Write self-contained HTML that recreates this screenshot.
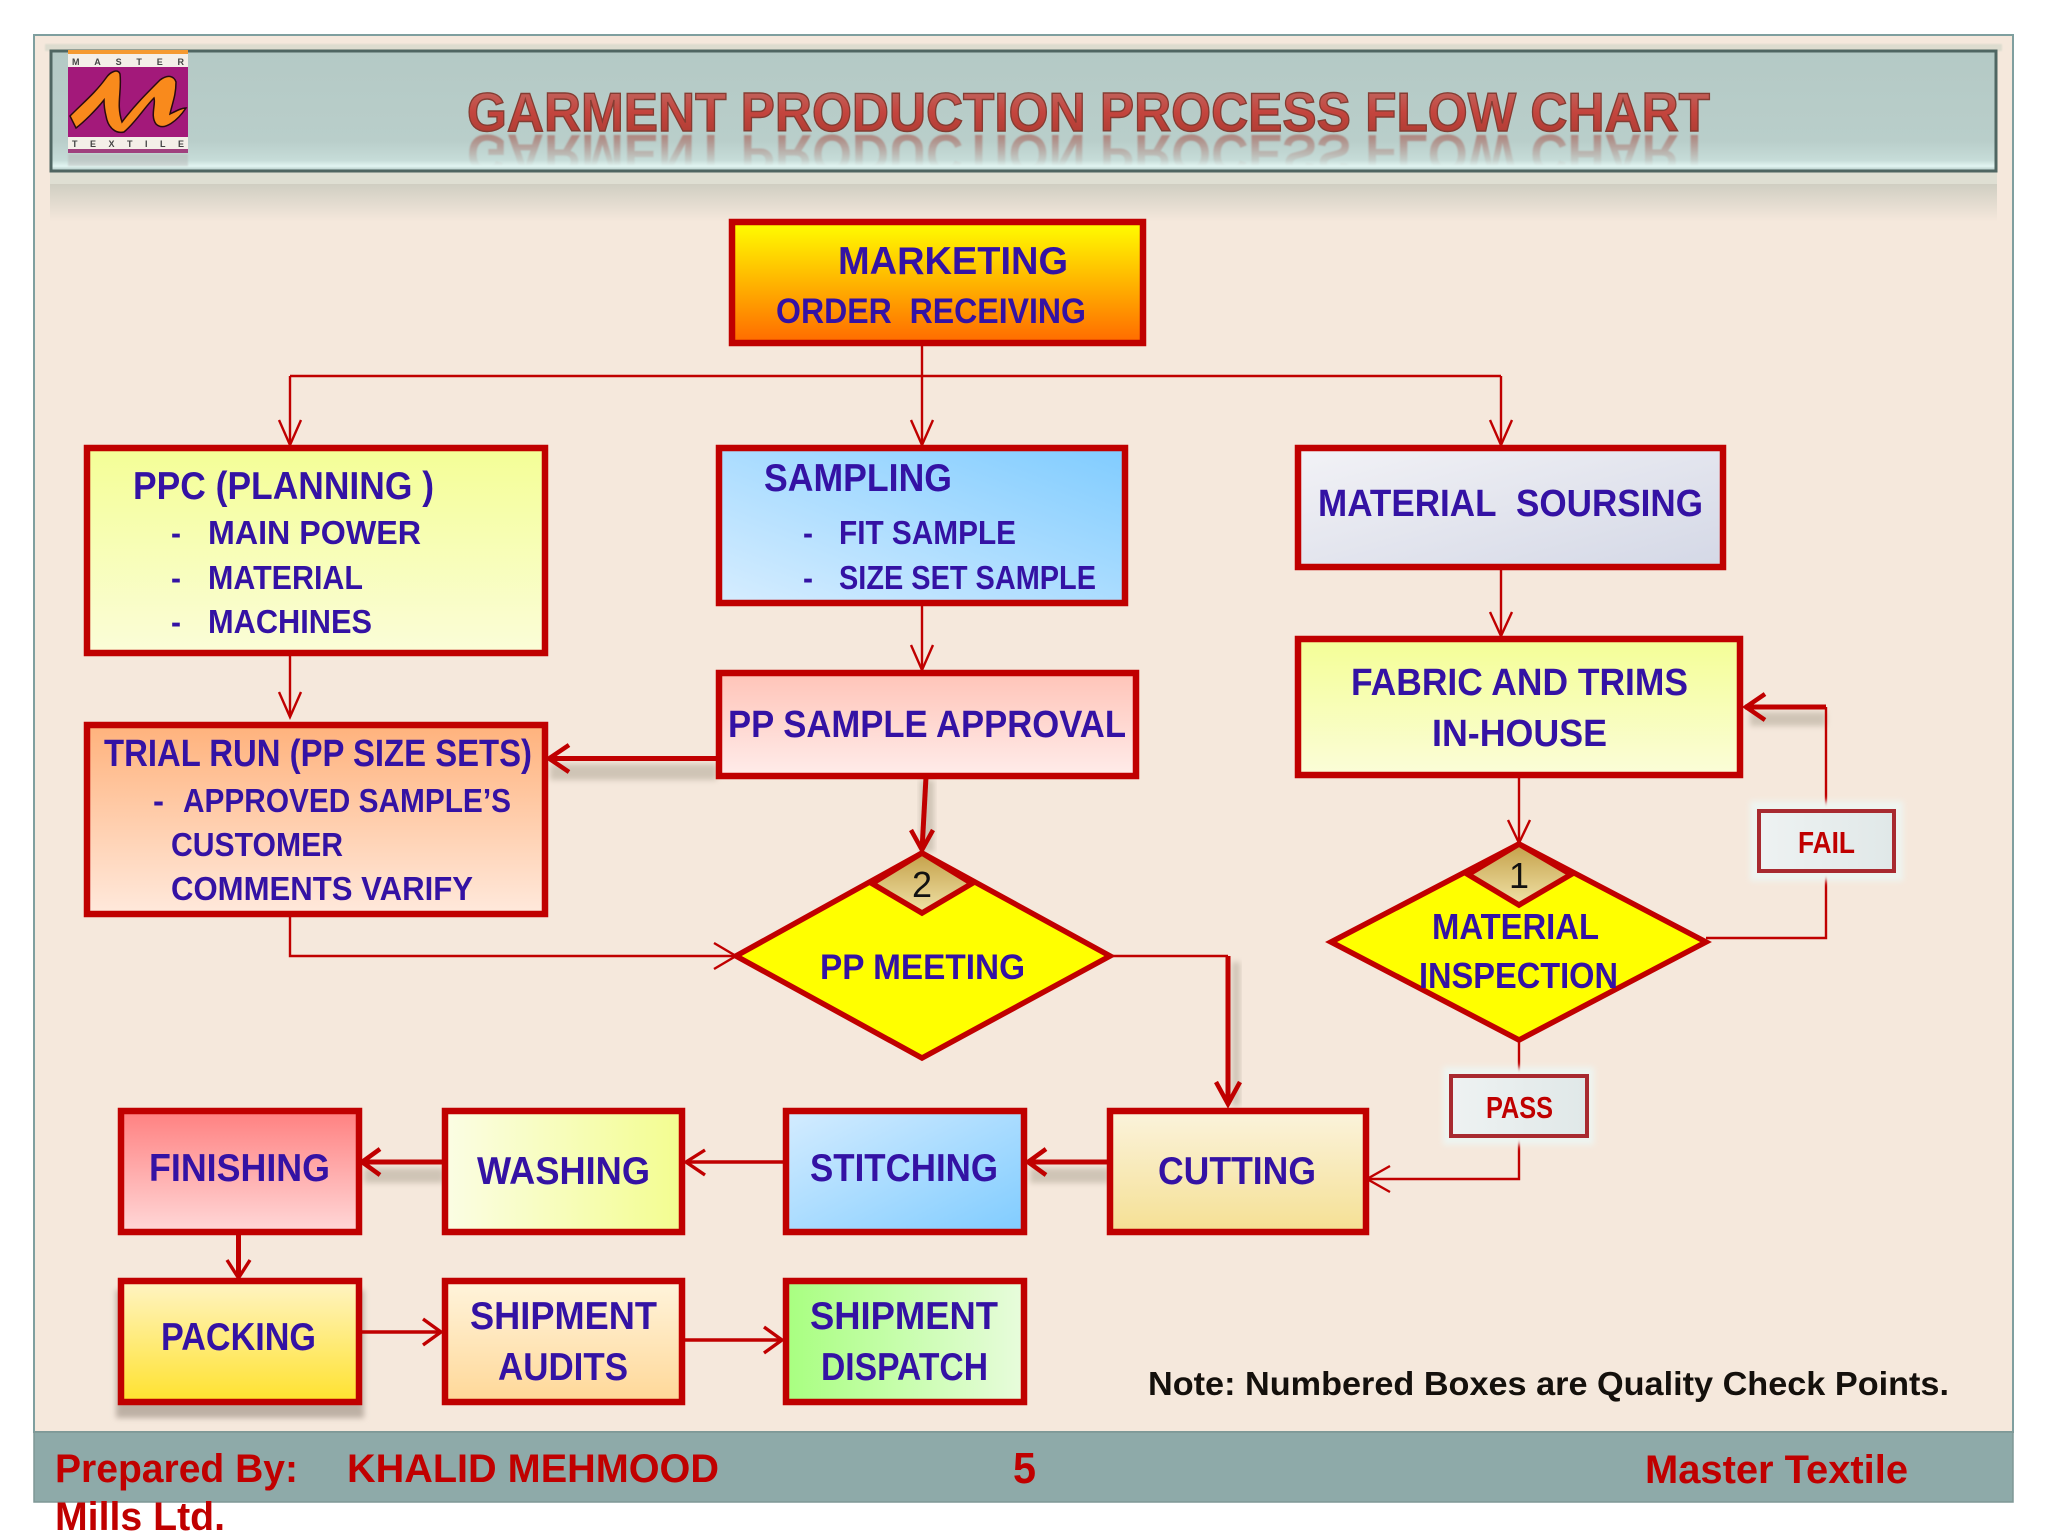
<!DOCTYPE html>
<html><head><meta charset="utf-8"><style>
html,body{margin:0;padding:0;background:#fff;width:2048px;height:1536px;overflow:hidden}
svg{display:block}
text{font-family:"Liberation Sans",sans-serif;font-weight:700}
.t{fill:#3412a4}
.b{stroke:#c00000;stroke-width:6.5;stroke-linejoin:miter}
.l{fill:none;stroke:#c00000;stroke-width:2.4}
.m{fill:none;stroke:#c00000;stroke-width:3.4}
.k{fill:none;stroke:#c00000;stroke-width:5}
.s{fill:#cfc4b6;filter:url(#bl)}
.f{fill:#c00000}
</style></head><body>
<svg xmlns="http://www.w3.org/2000/svg" width="2048" height="1536" viewBox="0 0 2048 1536">
<defs>
<filter id="bl" x="-20%" y="-60%" width="140%" height="220%"><feGaussianBlur stdDeviation="3"/></filter>
<filter id="bl2" x="-10%" y="-20%" width="120%" height="140%"><feGaussianBlur stdDeviation="3"/></filter>
<filter id="soft" x="-2%" y="-10%" width="104%" height="120%"><feGaussianBlur stdDeviation="0.8"/></filter>
<linearGradient id="g1" x1="0" y1="0" x2="0" y2="1"><stop offset="0" stop-color="#ffff00"/><stop offset="1" stop-color="#ff6a00"/></linearGradient>
<linearGradient id="g2" x1="0" y1="0" x2="0" y2="1"><stop offset="0" stop-color="#f4fe96"/><stop offset="1" stop-color="#fbfdd8"/></linearGradient>
<linearGradient id="g3" x1="1" y1="0" x2="0" y2="1"><stop offset="0" stop-color="#80ccff"/><stop offset="1" stop-color="#d6edff"/></linearGradient>
<linearGradient id="g4" x1="0" y1="0" x2="1" y2="1"><stop offset="0" stop-color="#f2f2f6"/><stop offset="1" stop-color="#d4d8e6"/></linearGradient>
<linearGradient id="g5" x1="0" y1="0" x2="0" y2="1"><stop offset="0" stop-color="#ffc4b8"/><stop offset="1" stop-color="#ffecea"/></linearGradient>
<linearGradient id="g6" x1="0" y1="0" x2="0" y2="1"><stop offset="0" stop-color="#ffb27c"/><stop offset="1" stop-color="#ffe9dc"/></linearGradient>
<linearGradient id="g7" x1="0" y1="0" x2="0" y2="1"><stop offset="0" stop-color="#fbf3dc"/><stop offset="1" stop-color="#f5e094"/></linearGradient>
<linearGradient id="g8" x1="0" y1="0" x2="0" y2="1"><stop offset="0" stop-color="#ff8080"/><stop offset="1" stop-color="#ffd8d8"/></linearGradient>
<linearGradient id="g9" x1="0" y1="0" x2="1" y2="0"><stop offset="0" stop-color="#fbfde4"/><stop offset="1" stop-color="#f3fd90"/></linearGradient>
<linearGradient id="g10" x1="0" y1="0" x2="1" y2="1"><stop offset="0" stop-color="#d4ecff"/><stop offset="1" stop-color="#80ccff"/></linearGradient>
<linearGradient id="g11" x1="0" y1="0" x2="0" y2="1"><stop offset="0" stop-color="#fff4c4"/><stop offset="1" stop-color="#ffe22e"/></linearGradient>
<linearGradient id="g12" x1="0" y1="0" x2="0" y2="1"><stop offset="0" stop-color="#fff4dc"/><stop offset="1" stop-color="#ffd898"/></linearGradient>
<linearGradient id="g13" x1="0" y1="0" x2="1" y2="0"><stop offset="0" stop-color="#a8ff80"/><stop offset="1" stop-color="#e8fcdc"/></linearGradient>
<linearGradient id="gd" x1="0" y1="0" x2="0" y2="1"><stop offset="0" stop-color="#c4a048"/><stop offset="1" stop-color="#f0e2a8"/></linearGradient>
<linearGradient id="hd" x1="0" y1="0" x2="0" y2="1"><stop offset="0" stop-color="#b4c9c5"/><stop offset=".75" stop-color="#b9ceca"/><stop offset=".91" stop-color="#c6dcd8"/><stop offset=".96" stop-color="#e2f5f2"/><stop offset="1" stop-color="#a8bfbb"/></linearGradient>
<linearGradient id="rf" x1="0" y1="0" x2="0" y2="1"><stop offset="0" stop-color="#cfcec2"/><stop offset="1" stop-color="#f5e8dc"/></linearGradient>
<linearGradient id="tt" x1="0" y1="0" x2="0" y2="1"><stop offset="0" stop-color="#c0706a"/><stop offset=".5" stop-color="#c4453e"/><stop offset="1" stop-color="#a83a30"/></linearGradient>
<linearGradient id="fade" gradientUnits="userSpaceOnUse" x1="0" y1="133" x2="0" y2="166"><stop offset="0" stop-color="#fff" stop-opacity=".65"/><stop offset="1" stop-color="#fff" stop-opacity="0"/></linearGradient>
<mask id="mf" maskUnits="userSpaceOnUse" x="0" y="0" width="2048" height="300"><rect x="0" y="133" width="2048" height="36" fill="url(#fade)"/></mask>
<linearGradient id="lb" x1="0" y1="0" x2="1" y2="0"><stop offset="0" stop-color="#eef2f2"/><stop offset="1" stop-color="#e0e8e8"/></linearGradient>
</defs>

<!-- slide -->
<rect x="34" y="35" width="1979" height="1397" fill="#f5e8dc" stroke="#7f9f9f" stroke-width="2"/>
<rect x="50" y="172" width="1947" height="12" fill="#dfdfd3"/>
<rect x="50" y="184" width="1947" height="38" fill="url(#rf)"/>
<rect x="34" y="1432" width="1979" height="70" fill="#8eaaa9" stroke="#7f9795" stroke-width="1.5"/>

<!-- header band -->
<rect x="45" y="44" width="1957" height="7" fill="#dddccf" filter="url(#soft)"/>
<rect x="51" y="51" width="1945" height="120" fill="url(#hd)" stroke="#4f6662" stroke-width="3"/>

<!-- logo -->
<g>
<rect x="68" y="50" width="120" height="4" fill="#f59a30"/>
<rect x="68" y="54" width="120" height="14" fill="#f4efe8"/>
<text x="128" y="65" font-size="9" fill="#444" text-anchor="middle" textLength="112" lengthAdjust="spacing">MASTER</text>
<rect x="68" y="67" width="120" height="70" fill="#a3197a"/>
<rect x="68" y="137" width="120" height="12" fill="#f4efe8"/>
<text x="128" y="147" font-size="9" fill="#444" text-anchor="middle" textLength="112" lengthAdjust="spacing">TEXTILE</text>
<rect x="68" y="149" width="120" height="4" fill="#a0407e"/>
<rect x="68" y="154" width="120" height="12" fill="#b0a8a8" opacity=".35" filter="url(#soft)"/>
<path d="M70 116 C84 102 96 92 106 78 C110 72 118 68 120 74 C122 92 116 104 122 122 C134 106 146 94 160 80 C168 74 174 76 176 82 C176 96 172 104 170 114 C178 110 182 108 186 108 C178 120 164 132 156 124 C150 116 156 104 154 98 C144 108 136 122 124 132 C116 134 108 128 106 116 C104 108 104 104 104 100 C96 110 84 122 76 128 Z" fill="#f98a1c" stroke="#2a0a10" stroke-width="1.5"/>
</g>

<!-- title -->
<text x="467" y="131" font-size="55" fill="url(#tt)" stroke="#843c32" stroke-width="1.4" textLength="1243" lengthAdjust="spacingAndGlyphs">GARMENT PRODUCTION PROCESS FLOW CHART</text>
<g mask="url(#mf)">
<g filter="url(#soft)">
<text transform="translate(0,266) scale(1,-1)" x="467" y="131" font-size="55" fill="#a85850" textLength="1243" lengthAdjust="spacingAndGlyphs">GARMENT PRODUCTION PROCESS FLOW CHART</text>
</g>
</g>

<!-- shadows -->
<rect class="s" x="550" y="764" width="167" height="16"/>
<rect class="s" x="1750" y="712" width="76" height="14"/>
<rect class="s" x="1232" y="962" width="8" height="144"/>
<rect class="s" x="920" y="780" width="14" height="72"/>
<rect class="s" x="1030" y="1168" width="79" height="15"/>
<rect class="s" x="364" y="1168" width="80" height="15"/>
<rect class="s" x="116" y="1290" width="248" height="128" style="fill:#bdb0a4"/>

<!-- connectors -->
<path class="l" d="M922 345V445M290 376H1501M290 376V445M1501 376V445"/>
<path class="l" d="M922 604V670M290 655V717M1501 568V636M1519 776V843"/>
<path class="l" d="M290 915V956H736"/>
<path class="l" d="M1706 938H1826V800M1826 882V707"/>
<path class="l" d="M1519 1040V1179H1367"/>
<path class="l" d="M1110 956H1228"/>
<path class="k" d="M1228 956V1104"/>
<path class="k" d="M717 758.500H550"/>
<path class="k" d="M926 777L922 850"/>
<path class="k" d="M1826 707H1745"/>
<path class="m" d="M784 1162H686"/>
<path class="k" d="M1109 1162H1029"/>
<path class="k" d="M443 1162H363"/>
<path class="k" d="M238.500 1233V1277"/>
<path class="m" d="M360 1332H441"/>
<path class="m" d="M683 1340H782"/>

<!-- arrowheads -->
<path class="l" d="M279 420L290 445L301 420M911 420L922 445L933 420M1490 420L1501 445L1512 420"/>
<path class="l" d="M911 645L922 670L933 645M279 692L290 717L301 692M1490 612L1501 636L1512 612M1508 820L1519 843L1530 820"/>
<path class="l" d="M714 943L736 956L714 969M1390 1166L1367 1179L1390 1192"/>
<path class="k" style="stroke-width:4.500" d="M569 745L549 758.500L569 772"/>
<path class="k" style="stroke-width:4.500" d="M911 830L922 850L933 830M1216 1082L1228 1104L1240 1082"/>
<path class="k" style="stroke-width:4.500" d="M1765 694L1746 707L1765 720"/>
<path class="k" style="stroke-width:4.500" d="M1046 1149L1028 1162L1046 1175M380 1149L362 1162L380 1175"/>
<path class="m" d="M705 1150L686 1162L705 1175M227 1260L238.500 1278L250 1260M423 1319L441 1332L423 1345M764 1327L782 1340L764 1353"/>

<!-- boxes -->
<rect class="b" x="732" y="222" width="411" height="121" fill="url(#g1)"/>
<rect class="b" x="87" y="448" width="458" height="205" fill="url(#g2)"/>
<rect class="b" x="719" y="448" width="406" height="155" fill="url(#g3)"/>
<rect class="b" x="1298" y="448" width="425" height="119" fill="url(#g4)"/>
<rect class="b" x="1298" y="639" width="442" height="136" fill="url(#g2)"/>
<rect class="b" x="719" y="673" width="417" height="103" fill="url(#g5)"/>
<rect class="b" x="87" y="725" width="458" height="189" fill="url(#g6)"/>
<rect class="b" x="1110" y="1111" width="256" height="121" fill="url(#g7)"/>
<rect class="b" x="121" y="1111" width="238" height="121" fill="url(#g8)"/>
<rect class="b" x="445" y="1111" width="237" height="121" fill="url(#g9)"/>
<rect class="b" x="786" y="1111" width="238" height="121" fill="url(#g10)"/>
<rect class="b" x="121" y="1281" width="238" height="121" fill="url(#g11)"/>
<rect class="b" x="445" y="1281" width="237" height="121" fill="url(#g12)"/>
<rect class="b" x="786" y="1281" width="238" height="121" fill="url(#g13)"/>

<!-- diamonds -->
<polygon class="b" points="922,853 1110,956 922,1058 736,956" fill="#ffff00" style="stroke-width:5.500"/>
<polygon class="b" points="922,853 972,883.500 922,913 872,883.500" fill="url(#gd)" style="stroke-width:5.500"/>
<polygon class="b" points="1519,844 1706,942 1519,1040 1331,942" fill="#ffff00" style="stroke-width:5.500"/>
<polygon class="b" points="1519,844 1571,874.500 1519,905 1468,874.500" fill="url(#gd)" style="stroke-width:5.500"/>
<text x="922" y="897" font-size="36" text-anchor="middle" fill="#111" style="font-weight:400">2</text>
<text x="1519" y="888" font-size="36" text-anchor="middle" fill="#111" style="font-weight:400">1</text>

<!-- labels fail / pass -->
<rect x="1750" y="801" width="153" height="80" fill="#eef4f0" filter="url(#bl2)"/>
<rect x="1759" y="811" width="135" height="60" fill="url(#lb)" stroke="#a82a30" stroke-width="4"/>
<rect x="1443" y="1067" width="151" height="78" fill="#eef4f0" filter="url(#bl2)"/>
<rect x="1451" y="1076" width="136" height="60" fill="url(#lb)" stroke="#a82a30" stroke-width="4"/>
<text x="1798" y="853" font-size="31" class="f" textLength="57" lengthAdjust="spacingAndGlyphs">FAIL</text>
<text x="1486" y="1118" font-size="31" class="f" textLength="67" lengthAdjust="spacingAndGlyphs">PASS</text>

<!-- text -->
<text class="t" x="838" y="274" font-size="39" textLength="230" lengthAdjust="spacingAndGlyphs">MARKETING</text>
<text class="t" x="776" y="323" font-size="35" textLength="310" lengthAdjust="spacingAndGlyphs">ORDER&#160;&#160;RECEIVING</text>

<text class="t" x="133" y="499" font-size="39" textLength="301" lengthAdjust="spacingAndGlyphs">PPC (PLANNING )</text>
<text class="t" x="171" y="544" font-size="32" textLength="10" lengthAdjust="spacingAndGlyphs">-</text>
<text class="t" x="208" y="544" font-size="33" textLength="213" lengthAdjust="spacingAndGlyphs">MAIN POWER</text>
<text class="t" x="171" y="589" font-size="32" textLength="10" lengthAdjust="spacingAndGlyphs">-</text>
<text class="t" x="208" y="589" font-size="33" textLength="155" lengthAdjust="spacingAndGlyphs">MATERIAL</text>
<text class="t" x="171" y="633" font-size="32" textLength="10" lengthAdjust="spacingAndGlyphs">-</text>
<text class="t" x="208" y="633" font-size="33" textLength="164" lengthAdjust="spacingAndGlyphs">MACHINES</text>

<text class="t" x="764" y="491" font-size="39" textLength="188" lengthAdjust="spacingAndGlyphs">SAMPLING</text>
<text class="t" x="803" y="544" font-size="32" textLength="10" lengthAdjust="spacingAndGlyphs">-</text>
<text class="t" x="839" y="544" font-size="33" textLength="177" lengthAdjust="spacingAndGlyphs">FIT SAMPLE</text>
<text class="t" x="803" y="589" font-size="32" textLength="10" lengthAdjust="spacingAndGlyphs">-</text>
<text class="t" x="839" y="589" font-size="33" textLength="257" lengthAdjust="spacingAndGlyphs">SIZE SET SAMPLE</text>

<text class="t" x="1318" y="516" font-size="38" textLength="385" lengthAdjust="spacingAndGlyphs">MATERIAL&#160;&#160;SOURSING</text>
<text class="t" x="1351" y="695" font-size="38" textLength="337" lengthAdjust="spacingAndGlyphs">FABRIC AND TRIMS</text>
<text class="t" x="1432" y="746" font-size="38" textLength="175" lengthAdjust="spacingAndGlyphs">IN-HOUSE</text>

<text class="t" x="728" y="737" font-size="38" textLength="398" lengthAdjust="spacingAndGlyphs">PP SAMPLE APPROVAL</text>

<text class="t" x="104" y="766" font-size="38" textLength="428" lengthAdjust="spacingAndGlyphs">TRIAL RUN (PP SIZE SETS)</text>
<text class="t" x="153" y="812" font-size="33" textLength="11" lengthAdjust="spacingAndGlyphs">-</text>
<text class="t" x="183" y="812" font-size="33" textLength="328" lengthAdjust="spacingAndGlyphs">APPROVED SAMPLE’S</text>
<text class="t" x="171" y="856" font-size="33" textLength="172" lengthAdjust="spacingAndGlyphs">CUSTOMER</text>
<text class="t" x="171" y="900" font-size="33" textLength="302" lengthAdjust="spacingAndGlyphs">COMMENTS VARIFY</text>

<text class="t" x="820" y="979" font-size="35" textLength="205" lengthAdjust="spacingAndGlyphs">PP MEETING</text>
<text class="t" x="1432" y="939" font-size="36" textLength="167" lengthAdjust="spacingAndGlyphs">MATERIAL</text>
<text class="t" x="1419" y="988" font-size="36" textLength="199" lengthAdjust="spacingAndGlyphs">INSPECTION</text>

<text class="t" x="1158" y="1184" font-size="39" textLength="158" lengthAdjust="spacingAndGlyphs">CUTTING</text>
<text class="t" x="149" y="1181" font-size="39" textLength="181" lengthAdjust="spacingAndGlyphs">FINISHING</text>
<text class="t" x="477" y="1184" font-size="39" textLength="173" lengthAdjust="spacingAndGlyphs">WASHING</text>
<text class="t" x="810" y="1181" font-size="39" textLength="188" lengthAdjust="spacingAndGlyphs">STITCHING</text>
<text class="t" x="161" y="1350" font-size="39" textLength="155" lengthAdjust="spacingAndGlyphs">PACKING</text>
<text class="t" x="470" y="1329" font-size="39" textLength="187" lengthAdjust="spacingAndGlyphs">SHIPMENT</text>
<text class="t" x="498" y="1380" font-size="39" textLength="130" lengthAdjust="spacingAndGlyphs">AUDITS</text>
<text class="t" x="810" y="1329" font-size="39" textLength="188" lengthAdjust="spacingAndGlyphs">SHIPMENT</text>
<text class="t" x="821" y="1380" font-size="39" textLength="167" lengthAdjust="spacingAndGlyphs">DISPATCH</text>

<text x="1148" y="1395" font-size="33" fill="#14100c" textLength="801" lengthAdjust="spacingAndGlyphs">Note: Numbered Boxes are Quality Check Points.</text>

<!-- footer -->
<text class="f" x="55" y="1482" font-size="40" textLength="243" lengthAdjust="spacingAndGlyphs">Prepared By:</text>
<text class="f" x="347" y="1482" font-size="40" textLength="372" lengthAdjust="spacingAndGlyphs">KHALID MEHMOOD</text>
<text class="f" x="1013" y="1483" font-size="44" textLength="23" lengthAdjust="spacingAndGlyphs">5</text>
<text class="f" x="1645" y="1483" font-size="40" textLength="263" lengthAdjust="spacingAndGlyphs">Master Textile</text>
<text class="f" x="55" y="1530" font-size="40" textLength="170" lengthAdjust="spacingAndGlyphs">Mills Ltd.</text>
</svg>
</body></html>
